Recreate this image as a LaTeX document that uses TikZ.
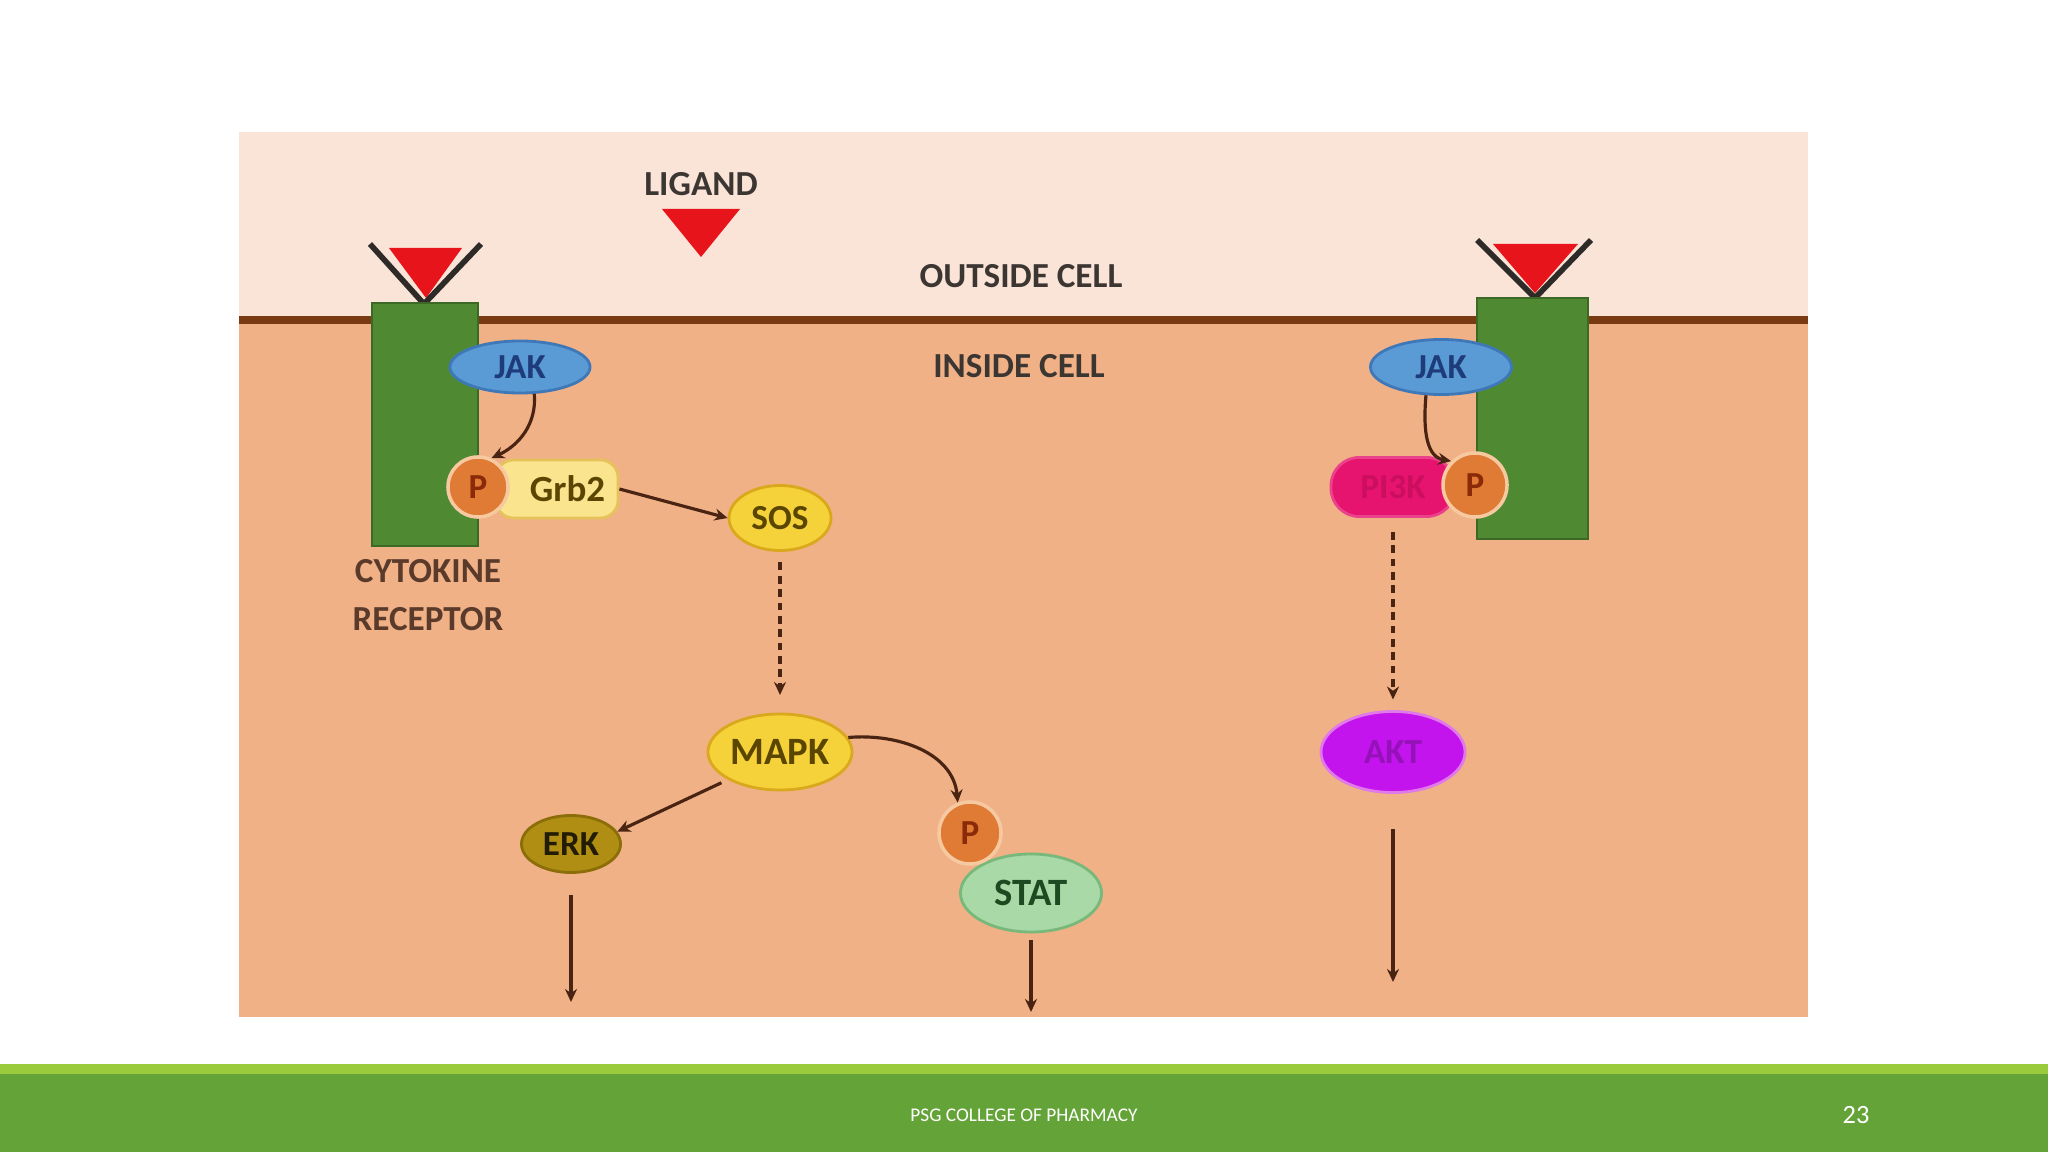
\documentclass[tikz,border=0pt]{standalone}
\usepackage{fontspec}
\setmainfont{Carlito}
\usetikzlibrary{arrows.meta,shapes,positioning}

\definecolor{outsideBg}{HTML}{FAE3D7}
\definecolor{insideBg}{HTML}{F1B186}
\definecolor{membrane}{HTML}{7A3A12}
\definecolor{recGreen}{HTML}{4F8A33}
\definecolor{recDark}{HTML}{3C6A26}
\definecolor{ligRed}{HTML}{E8141B}
\definecolor{vDark}{HTML}{2E2A28}
\definecolor{jakBlue}{HTML}{5B9BD5}
\definecolor{jakRim}{HTML}{3F78B8}
\definecolor{jakText}{HTML}{1F3C7A}
\definecolor{phosOrange}{HTML}{E07B35}
\definecolor{phosRim}{HTML}{F6C9A0}
\definecolor{phosText}{HTML}{8A2A08}
\definecolor{grbFill}{HTML}{FBE48E}
\definecolor{grbRim}{HTML}{E6C25A}
\definecolor{oliveText}{HTML}{5A4600}
\definecolor{sosFill}{HTML}{F6D23A}
\definecolor{sosRim}{HTML}{D9A81C}
\definecolor{erkFill}{HTML}{B08E14}
\definecolor{erkRim}{HTML}{8C6E08}
\definecolor{statFill}{HTML}{A9D9A6}
\definecolor{statRim}{HTML}{78B87A}
\definecolor{statText}{HTML}{1E4A22}
\definecolor{pikFill}{HTML}{E6146E}
\definecolor{pikText}{HTML}{CC0E5E}
\definecolor{aktFill}{HTML}{C414EE}
\definecolor{aktRim}{HTML}{E07AE8}
\definecolor{aktText}{HTML}{9412B8}
\definecolor{arrowBrown}{HTML}{4A2412}
\definecolor{labelGray}{HTML}{3C3632}
\definecolor{labelBrown}{HTML}{5A3A2A}
\definecolor{footGreen}{HTML}{64A337}
\definecolor{footLight}{HTML}{9ACB3C}

\begin{document}
\begin{tikzpicture}[x=0.01cm, y=-0.01cm, >={Stealth[length=1.3mm,width=1.2mm]},
    every node/.style={font=\bfseries\fontsize{10}{12}\selectfont},
    mol/.style={ellipse, line width=0.8pt, inner sep=0pt},
    phos/.style={circle, fill=phosOrange, draw=phosRim, line width=1pt, minimum size=0.6cm, inner sep=0pt, text=phosText},
    sig/.style={->, line width=0.9pt, draw=arrowBrown},
    sigdash/.style={->, line width=1.4pt, draw=arrowBrown, dash pattern=on 2.2pt off 1.6pt},
    lbl/.style={text=labelGray, align=center}]
    \useasboundingbox (0,0) rectangle (2048,1152);
    \fill[white] (0,0) rectangle (2048,1152);

    % Outside and inside of the cell
    \fill[outsideBg] (239,132) rectangle (1808,318);
    \fill[insideBg] (239,318) rectangle (1808,1017);
    \draw[membrane, line width=2pt] (239,320) -- (1808,320);

    % Labels
    \node[lbl] (ligand) at (701,184) {LIGAND};
    \node[lbl] (outside) at (1021,276) {OUTSIDE CELL};
    \node[lbl] (inside) at (1019,366) {INSIDE CELL};
    \node[lbl, text=labelBrown, font=\bfseries\fontsize{10}{13.6}\selectfont] (cytok) at (428,595) {CYTOKINE\\RECEPTOR};

    % Free ligand
    \fill[ligRed] (662,209) -- (740,209) -- (701,257) -- cycle;

    % Left receptor with bound ligand
    \fill[ligRed] (389,248) -- (462,248) -- (426,298) -- cycle;
    \draw[vDark, line width=1.6pt] (370,244) -- (424,304) -- (481,244);
    \draw[fill=recGreen, draw=recDark] (372,303) rectangle (478,546);

    % Right receptor with bound ligand
    \fill[ligRed] (1493,244) -- (1578,244) -- (1535,293) -- cycle;
    \draw[vDark, line width=1.6pt] (1477,240) -- (1535,298) -- (1591,240);
    \draw[fill=recGreen, draw=recDark] (1477,298) rectangle (1588,539);

    % Left pathway
    \node[mol, fill=jakBlue, draw=jakRim, minimum width=1.4cm, minimum height=0.52cm, text=jakText] (jakL) at (520,367) {JAK};
    \node[rounded corners=5pt, fill=grbFill, draw=grbRim, line width=0.8pt, minimum width=1.22cm, minimum height=0.58cm, text=oliveText, font=\bfseries\fontsize{10.5}{13}\selectfont] (grb) at (557,489) {\hspace{6pt}Grb2};
    \node[phos] (pL) at (478,487) {P};
    \node[mol, fill=sosFill, draw=sosRim, minimum width=1.02cm, minimum height=0.65cm, text=oliveText] (sos) at (780,518) {SOS};
    \node[mol, fill=sosFill, draw=sosRim, minimum width=1.44cm, minimum height=0.76cm, text=oliveText, font=\bfseries\fontsize{11}{13}\selectfont] (mapk) at (780,752) {MAPK};
    \node[mol, fill=erkFill, draw=erkRim, minimum width=0.99cm, minimum height=0.57cm, text=black!80!erkFill] (erk) at (571,844) {ERK};
    \node[mol, fill=statFill, draw=statRim, minimum width=1.41cm, minimum height=0.78cm, text=statText, font=\bfseries\fontsize{11}{13}\selectfont] (stat) at (1031,893) {STAT};
    \node[phos, minimum size=0.62cm] (pS) at (970,833) {P};

    \coordinate (erkEnd) at (571,1002);
    \coordinate (statEnd) at (1031,1012);

    \draw[sig] (jakL.-62) to[out=-85, in=25] (pL.65);
    \draw[sig] (grb.east) -- (sos.west);
    \draw[sigdash, shorten <=3pt, shorten >=5pt] (sos.south) -- (mapk.north);
    \draw[sig, shorten <=2pt] (mapk.208) -- (erk.15);
    \draw[sig] (mapk.12) to[out=5, in=95] (pS.112);
    \draw[sig, shorten <=6pt] (erk.south) -- (erkEnd);
    \draw[sig, shorten <=2pt] (stat.south) -- (statEnd);

    % Right pathway
    \node[mol, fill=jakBlue, draw=jakRim, minimum width=1.41cm, minimum height=0.55cm, text=jakText] (jakR) at (1441,367) {JAK};
    \node[rounded corners=8pt, fill=pikFill, draw=pikFill!80!white, line width=0.8pt, minimum width=1.24cm, minimum height=0.59cm, text=pikText] (pik) at (1393,487) {PI3K\hspace{6pt}};
    \node[phos, minimum size=0.64cm] (pR) at (1475,485) {P};
    \node[mol, fill=aktFill, draw=aktRim, minimum width=1.44cm, minimum height=0.81cm, text=aktText] (akt) at (1393,752) {AKT};

    \coordinate (aktEnd) at (1393,982);

    \draw[sig] (jakR.-118) to[out=-95, in=170] (pR.135);
    \draw[sigdash, shorten <=4pt, shorten >=3pt] (pik.south) -- (akt.north);
    \draw[sig, shorten <=10pt] (akt.south) -- (aktEnd);

    % Footer
    \fill[footLight] (0,1064) rectangle (2048,1075);
    \fill[footGreen] (0,1074) rectangle (2048,1152);
    \node[text=white, font=\fontsize{5.5}{7}\selectfont] (foot) at (1024,1115) {PSG COLLEGE OF PHARMACY};
    \node[text=white, font=\fontsize{7.5}{9}\selectfont] (pageno) at (1856,1115) {23};
\end{tikzpicture}
\end{document}
